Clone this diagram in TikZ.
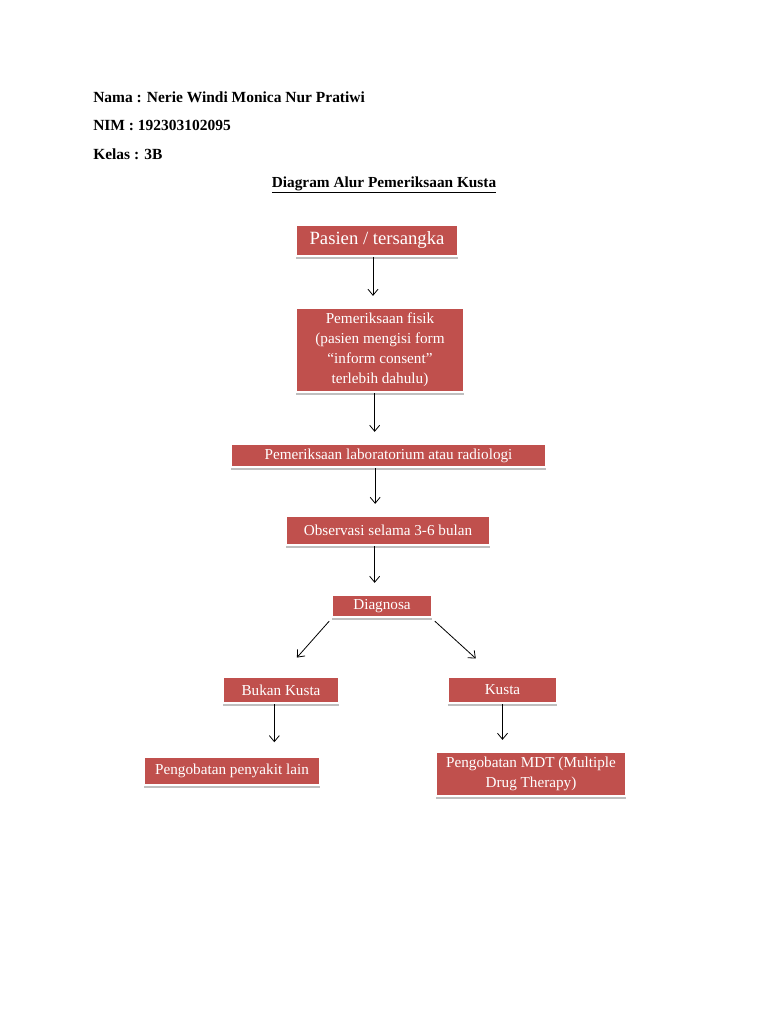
\documentclass[tikz,border=0pt]{standalone}
\usepackage{fontspec}
\setmainfont{Liberation Serif}
\usetikzlibrary{arrows.meta,shadows}
\definecolor{boxred}{HTML}{C0504D}
\tikzset{
  box/.style={fill=boxred, draw=white, line width=2.2pt, text=white,
    align=center, inner sep=1pt, font=\fontsize{11.4}{15}\selectfont,
    drop shadow={shadow xshift=0pt, shadow yshift=-2.2pt, fill=black!55, opacity=.45}},
  flow/.style={line width=0.6pt, -{Straight Barb[length=4.5pt,width=7.5pt]}, shorten >=8pt},
  head/.style={anchor=west, inner sep=0pt, font=\fontsize{11.6}{14}\selectfont\bfseries}
}
\begin{document}
\begin{tikzpicture}[x=0.75pt,y=-0.75pt]
  \useasboundingbox[fill=white] (0,0) rectangle (768,1024);
  \node[head] (nama) at (93,97) {Nama : Nerie Windi Monica Nur Pratiwi};
  \node[head] (nim) at (93,125) {NIM : 192303102095};
  \node[head] (kelas) at (93,154) {Kelas : 3B};
  \node[font=\fontsize{11.5}{14}\selectfont\bfseries] (judul) at (384,185)
    {\underline{Diagram Alur Pemeriksaan Kusta}};

  \node[box, minimum width=121.5pt, minimum height=23.25pt, font=\fontsize{14}{16}\selectfont]
    (pasien) at (377,240.5) {Pasien / tersangka};
  \node[box, minimum width=126pt, minimum height=63pt]
    (fisik) at (380,350) {Pemeriksaan fisik\\(pasien mengisi form\\``inform consent''\\terlebih dahulu)};
  \node[box, minimum width=236.25pt, minimum height=17.25pt]
    (lab) at (388.5,455.5) {Pemeriksaan laboratorium atau radiologi};
  \node[box, minimum width=153pt, minimum height=21.75pt]
    (observasi) at (388,530.5) {Observasi selama 3-6 bulan};
  \node[box, minimum width=75pt, minimum height=16.5pt]
    (diagnosa) at (382,606) {Diagnosa};
  \node[box, minimum width=87pt, minimum height=19.5pt]
    (bukan) at (281,690) {Bukan Kusta};
  \node[box, minimum width=81.75pt, minimum height=19.5pt]
    (kusta) at (502.5,690) {Kusta};
  \node[box, minimum width=132pt, minimum height=21pt]
    (lain) at (232,771) {Pengobatan penyakit lain};
  \node[box, minimum width=142.5pt, minimum height=33pt]
    (mdt) at (531,774) {Pengobatan MDT (Multiple\\Drug Therapy)};

  \begin{scope}[flow]
    \draw ([xshift=-3pt]pasien.south) to ([xshift=-3pt]pasien.south |- fisik.north);
    \draw ([xshift=-4pt]fisik.south) to ([xshift=-4pt]fisik.south |- lab.north);
    \draw ([xshift=-10pt]lab.south) to ([xshift=-10pt]lab.south |- observasi.north);
    \draw ([xshift=-10pt]observasi.south) to ([xshift=-10pt]observasi.south |- diagnosa.north);
    \draw[shorten >=18pt] ([xshift=-1pt,yshift=-2pt]diagnosa.south west) to (bukan.north);
    \draw[shorten >=19pt] ([xshift=1pt,yshift=-2pt]diagnosa.south east) to ([xshift=-6pt]kusta.north);
    \draw[shorten >=10pt] ([xshift=-5pt]bukan.south) to ([xshift=-5pt]bukan.south |- lain.north);
    \draw (kusta.south) to (kusta.south |- mdt.north);
  \end{scope}
\end{tikzpicture}
\end{document}
